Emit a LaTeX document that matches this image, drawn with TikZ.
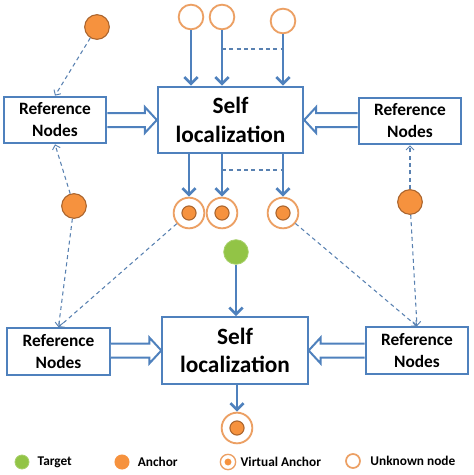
\documentclass[tikz,border=0pt]{standalone}
\usepackage{fontspec}
\setmainfont{Carlito}
\usetikzlibrary{calc, positioning, arrows.meta}
\definecolor{myblue}{RGB}{79,129,189}
\definecolor{orfill}{RGB}{246,146,62}
\definecolor{orline}{RGB}{170,100,45}
\definecolor{orring}{RGB}{236,160,100}
\definecolor{grfill}{RGB}{146,196,70}
\tikzset{
  refbox/.style={draw=myblue, line width=1.5pt, fill=white, minimum width=77pt, minimum height=35pt,
    align=center, inner sep=0pt, font=\bfseries\fontsize{13}{16.5}\selectfont},
  selfbox/.style={draw=myblue, line width=1.5pt, fill=white, minimum width=109pt, minimum height=50pt,
    align=center, inner sep=0pt, font=\bfseries\fontsize{17.5}{21.5}\selectfont},
  anchornode/.style={circle, draw=orline, fill=orfill, line width=0.8pt, minimum size=18.5pt, inner sep=0pt},
  unknown/.style={circle, draw=orring, fill=white, line width=1.4pt, minimum size=18.5pt, inner sep=0pt},
  target/.style={circle, fill=grfill, draw=grfill!80!white, line width=0.6pt, minimum size=18.5pt, inner sep=0pt},
  virtual/.style={circle, draw=orring, fill=white, line width=1.4pt, minimum size=23pt, inner sep=0pt,
    path picture={\draw[fill=orfill, draw=orline, line width=0.8pt] (path picture bounding box.center) circle (5.3pt);}},
  solidarrow/.style={draw=myblue, line width=2pt, -{Straight Barb[length=5pt, width=10pt]}},
  dashline/.style={draw=myblue!80!gray, line width=0.8pt, dash pattern=on 3pt off 2.5pt},
  dasharrow/.style={dashline, -{Straight Barb[length=3pt, width=6pt, line width=0.7pt]}},
  hollow/.style={draw=myblue, line width=1.5pt, fill=white, line join=miter},
  legtext/.style={inner sep=0pt, anchor=west, font=\bfseries\fontsize{10}{12}\selectfont},
}
% fat open arrow: from, to, signed head length
\newcommand{\hollowarrow}[3]{%
  \draw[hollow] ($(#1 |- #2)+(0,7)$) -- ($(#2)+(#3,7)$) -- ($(#2)+(#3,13)$) -- (#2)
    -- ($(#2)+(#3,-13)$) -- ($(#2)+(#3,-7)$) -- ($(#1 |- #2)+(0,-7)$);}
\begin{document}
\begin{tikzpicture}[x=0.75pt, y=-0.75pt]
\useasboundingbox (0,0) rectangle (474,475);
% boxes %
\node[selfbox] (selfT) at (230.5,120) {Self\\localization};
\node[selfbox] (selfB) at (235,350.5) {Self\\localization};
\node[refbox] (refL) at (55,120) {Reference\\Nodes};
\node[refbox] (refR) at (410,121) {Reference\\Nodes};
\node[refbox] (refBL) at (58.5,351.5) {Reference\\Nodes};
\node[refbox] (refBR) at (417,350.5) {Reference\\Nodes};

% nodes %
\node[unknown] (u1) at (191,17) {};
\node[unknown] (u2) at (222,17) {};
\node[unknown] (u3) at (283,21) {};
\node[anchornode] (a1) at (97,27) {};
\node[anchornode] (a2) at (74,206) {};
\node[anchornode] (a3) at (410,202) {};
\node[virtual] (v1) at (189,213) {};
\node[virtual] (v2) at (222,213) {};
\node[virtual] (v3) at (283,213) {};
\node[target] (t) at (236,252) {};
\node[virtual] (v4) at (237,428) {};
\coordinate (dtop) at (0,49);
\coordinate (dbot) at (0,170);

% edges %
\foreach \u in {u1,u2,u3}
  \draw[solidarrow] (\u.south) -- (\u.south |- selfT.north);
\foreach \v in {v1,v2,v3}
  \draw[solidarrow] (selfT.south -| \v) -- (\v.north);
\draw[dashline] (dtop -| u2) -- (dtop -| u3);
\draw[dashline] (dbot -| v2) -- (dbot -| v3);
\draw[solidarrow] (t.south) -- (t.south |- selfB.north);
\draw[solidarrow] (selfB.south -| v4) -- (v4.north);
\hollowarrow{refL.east}{selfT.west}{-12}
\hollowarrow{refR.west}{selfT.east}{12}
\hollowarrow{refBL.east}{selfB.west}{-12}
\hollowarrow{refBR.west}{selfB.east}{12}
\draw[dasharrow] (a1) -- (refL.north);
\draw[dasharrow] (a2) -- (refL.south);
\draw[dasharrow] (a2) -- (refBL.north);
\draw[dasharrow] (v1) -- (refBL.north);
\draw[dasharrow] (a3) -- (refR.south);
\draw[dasharrow] (a3) -- (refBR.north);
\draw[dasharrow] (v3) -- (refBR.north);

% legend %
\node[target, minimum size=10.5pt] (l1) at (22,462) {};
\node[legtext, right=6pt of l1] (lt1) {Target};
\node[anchornode, draw=orfill, minimum size=10.5pt] (l2) at (122,462) {};
\node[legtext, right=6pt of l2] (lt2) {Anchor};
\node[virtual, minimum size=11.5pt, line width=1pt,
  path picture={\fill[orfill] (path picture bounding box.center) circle (2.6pt);}] (l3) at (228,462) {};
\node[legtext, right=3pt of l3] (lt3) {Virtual Anchor};
\node[unknown, minimum size=10.5pt, line width=1.3pt] (l4) at (353,461) {};
\node[legtext, right=7pt of l4] (lt4) {Unknown node};
\end{tikzpicture}
\end{document}
